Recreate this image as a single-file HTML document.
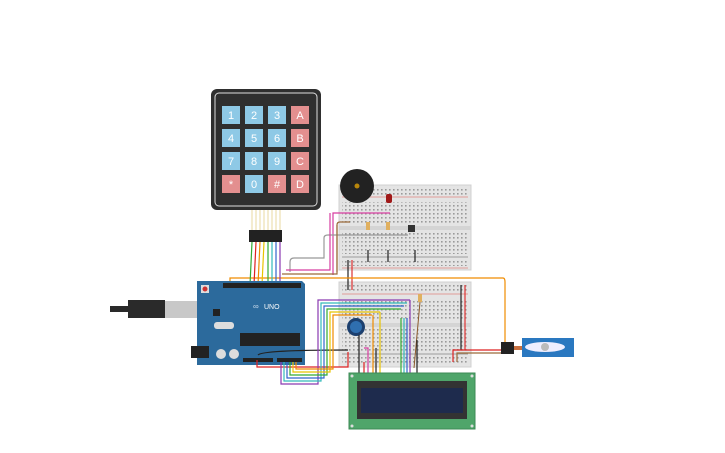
<!DOCTYPE html>
<html><head><meta charset="utf-8"><style>html,body{margin:0;padding:0;background:#fff}svg{display:block}</style></head><body>
<svg width="725" height="453" viewBox="0 0 725 453" xmlns="http://www.w3.org/2000/svg" font-family="Liberation Sans, sans-serif">
<defs>
<pattern id="h" width="4" height="4" patternUnits="userSpaceOnUse"><rect x="1" y="1" width="1.6" height="1.6" fill="#9a9a9a"/></pattern>
</defs>
<!-- Breadboard 1 -->
<rect x="339" y="185" width="132" height="85" fill="#e4e4e4" stroke="#d0d0d0"/>
<rect x="342" y="188" width="126" height="7" fill="url(#h)"/>
<rect x="342" y="202" width="126" height="22" fill="url(#h)"/>
<rect x="339" y="226" width="132" height="4" fill="#d4d4d4"/>
<rect x="342" y="232" width="126" height="22" fill="url(#h)"/>
<rect x="342" y="259" width="126" height="7" fill="url(#h)"/>
<line x1="342" y1="197" x2="468" y2="197" stroke="#d9534f" stroke-width="0.6"/>
<line x1="342" y1="257" x2="468" y2="257" stroke="#555" stroke-width="0.6"/>
<line x1="342" y1="268" x2="468" y2="268" stroke="#d9534f" stroke-width="0.6"/>
<!-- Breadboard 2 -->
<rect x="339" y="282" width="132" height="85" fill="#e4e4e4" stroke="#d0d0d0"/>
<rect x="342" y="285" width="126" height="7" fill="url(#h)"/>
<rect x="342" y="299" width="126" height="22" fill="url(#h)"/>
<rect x="339" y="323" width="132" height="4" fill="#d4d4d4"/>
<rect x="342" y="329" width="126" height="22" fill="url(#h)"/>
<rect x="342" y="356" width="126" height="7" fill="url(#h)"/>
<line x1="342" y1="294" x2="468" y2="294" stroke="#d9534f" stroke-width="0.6"/>
<line x1="342" y1="354" x2="468" y2="354" stroke="#555" stroke-width="0.6"/>
<!-- Buzzer -->
<circle cx="357" cy="186" r="17" fill="#222"/>
<circle cx="357" cy="186" r="2.5" fill="#b8860b"/>
<!-- LED -->
<rect x="386" y="194" width="6" height="9" rx="2" fill="#a01818"/>
<!-- resistors -->
<rect x="366" y="222" width="4" height="8" fill="#e0b060"/>
<rect x="386" y="222" width="4" height="8" fill="#e0b060"/>
<rect x="418" y="294" width="4" height="8" fill="#e0b060"/>
<line x1="420" y1="302" x2="414" y2="368" stroke="#8b5a2b" stroke-width="1"/>
<!-- button -->
<rect x="408" y="225" width="7" height="7" fill="#333"/>
<!-- bb1 small wires -->
<g stroke-width="1.2" fill="none">
<line x1="368" y1="250" x2="368" y2="262" stroke="#222"/>
<line x1="388" y1="250" x2="388" y2="262" stroke="#222"/>
<line x1="415" y1="250" x2="415" y2="262" stroke="#222"/>
<line x1="348" y1="260" x2="348" y2="290" stroke="#222"/>
<line x1="352" y1="260" x2="352" y2="290" stroke="#d33"/>
<line x1="461" y1="285" x2="461" y2="350" stroke="#222"/>
<line x1="465" y1="285" x2="465" y2="350" stroke="#d33"/>
<path d="M333 275 V213 H390" stroke="#d63ea0"/>
<path d="M337 272 V225 Q337 222 340 222 H350" stroke="#9b6a3a"/>
<path d="M290 272 V262 Q290 258 294 258 H324 V238 Q324 235 328 235 H408" stroke="#999"/>
<path d="M286 270 H330 V213" stroke="#d63ea0"/>
<path d="M282 274 H337 V225" stroke="#9b6a3a"/>
<path d="M230 284 V278 H503 Q505 278 505 282 V345" stroke="#f08c00"/>
</g>
<!-- keypad -->
<rect x="211" y="89" width="110" height="121" rx="6" fill="#2f2f2f"/>
<rect x="215" y="93" width="102" height="113" rx="4" fill="none" stroke="#ddd" stroke-width="1"/>
<g font-size="11" fill="#fff" text-anchor="middle">
<g fill="#8ec9e6"><rect x="222" y="106" width="18" height="18"/><rect x="245" y="106" width="18" height="18"/><rect x="268" y="106" width="18" height="18"/>
<rect x="222" y="129" width="18" height="18"/><rect x="245" y="129" width="18" height="18"/><rect x="268" y="129" width="18" height="18"/>
<rect x="222" y="152" width="18" height="18"/><rect x="245" y="152" width="18" height="18"/><rect x="268" y="152" width="18" height="18"/>
<rect x="245" y="175" width="18" height="18"/></g>
<g fill="#e38f8f"><rect x="291" y="106" width="18" height="18"/><rect x="291" y="129" width="18" height="18"/><rect x="291" y="152" width="18" height="18"/><rect x="291" y="175" width="18" height="18"/><rect x="222" y="175" width="18" height="18"/><rect x="268" y="175" width="18" height="18"/></g>
<text x="231" y="119">1</text><text x="254" y="119">2</text><text x="277" y="119">3</text><text x="300" y="119">A</text>
<text x="231" y="142">4</text><text x="254" y="142">5</text><text x="277" y="142">6</text><text x="300" y="142">B</text>
<text x="231" y="165">7</text><text x="254" y="165">8</text><text x="277" y="165">9</text><text x="300" y="165">C</text>
<text x="231" y="188">*</text><text x="254" y="188">0</text><text x="277" y="188">#</text><text x="300" y="188">D</text>
</g>
<g stroke="#e8d8a0" stroke-width="1"><line x1="252" y1="210" x2="252" y2="231"/><line x1="256" y1="210" x2="256" y2="231"/><line x1="260" y1="210" x2="260" y2="231"/><line x1="264" y1="210" x2="264" y2="231"/><line x1="268" y1="210" x2="268" y2="231"/><line x1="272" y1="210" x2="272" y2="231"/><line x1="276" y1="210" x2="276" y2="231"/><line x1="280" y1="210" x2="280" y2="231"/></g>
<rect x="249" y="230" width="33" height="12" fill="#222"/>
<g stroke-width="1.2"><line x1="252" y1="242" x2="250" y2="285" stroke="#3a3"/><line x1="256" y1="242" x2="254" y2="285" stroke="#d22"/><line x1="260" y1="242" x2="258" y2="285" stroke="#f08c00"/><line x1="264" y1="242" x2="262" y2="285" stroke="#e8c400"/><line x1="268" y1="242" x2="268" y2="285" stroke="#3a3"/><line x1="272" y1="242" x2="272" y2="285" stroke="#3bb"/><line x1="276" y1="242" x2="276" y2="285" stroke="#36c"/><line x1="280" y1="242" x2="280" y2="285" stroke="#8a3ab0"/></g>
<!-- USB -->
<rect x="165" y="301" width="48" height="17" fill="#c8c8c8"/>
<path d="M110 306 H128 V300 H165 V318 H128 V312 H110 Z" fill="#2a2a2a"/>
<!-- Arduino -->
<path d="M197 281 H302 L305 284 V365 H197 Z" fill="#2c6a9c"/>
<rect x="223" y="283" width="78" height="5" fill="#222"/>
<rect x="201" y="285" width="8" height="8" fill="#ddd"/><circle cx="205" cy="289" r="2.5" fill="#c33"/>
<text x="253" y="309" font-size="8" fill="#cde">∞</text><text x="264" y="309" font-size="7" fill="#fff">UNO</text>
<rect x="213" y="309" width="7" height="7" fill="#222"/>
<rect x="214" y="322" width="20" height="7" rx="3" fill="#ddd"/>
<rect x="240" y="333" width="60" height="13" fill="#222"/>
<rect x="191" y="346" width="18" height="12" fill="#222"/>
<circle cx="221" cy="354" r="5" fill="#ddd"/><circle cx="234" cy="354" r="5" fill="#ddd"/>
<rect x="243" y="358" width="30" height="4" fill="#222"/><rect x="277" y="358" width="25" height="4" fill="#222"/>
<!-- analog side wires -->
<g fill="none" stroke-width="1.2">
<path d="M257 360 V367 H348 V352" stroke="#d22"/>
<path d="M258 355 Q262 350 348 350" stroke="#222"/>
<path d="M281 362 V384 H318 V300 H410" stroke="#8a3ab0"/>
<path d="M284 362 V381 H321 V303 H407" stroke="#3bb"/>
<path d="M287 362 V378 H324 V306 H404" stroke="#36c"/>
<path d="M290 362 V375 H327 V309 H401" stroke="#3a3"/>
<path d="M293 362 V372 H330 V312 H380" stroke="#e8c400"/>
<path d="M296 362 V369 H333 V315 H372" stroke="#f08c00"/>
</g>
<!-- pot -->
<circle cx="356" cy="327" r="9" fill="#1c3f6e"/><circle cx="356" cy="327" r="6" fill="#2f6fb0"/>
<!-- lcd vertical wires -->
<g stroke-width="1.2">
<line x1="359" y1="335" x2="359" y2="374" stroke="#222"/>
<path d="M364 348 H368 V374" stroke="#d63ea0" fill="none"/>
<line x1="373" y1="315" x2="373" y2="374" stroke="#f08c00"/>
<line x1="376" y1="348" x2="376" y2="374" stroke="#222"/>
<line x1="380" y1="312" x2="380" y2="374" stroke="#e8c400"/>
<line x1="401" y1="318" x2="401" y2="374" stroke="#3a3"/>
<line x1="404" y1="318" x2="404" y2="374" stroke="#3bb"/>
<line x1="407" y1="318" x2="407" y2="374" stroke="#36c"/>
<line x1="410" y1="300" x2="410" y2="374" stroke="#8a3ab0"/>
<line x1="417" y1="340" x2="417" y2="374" stroke="#222"/>
<line x1="364" y1="362" x2="364" y2="374" stroke="#d22"/>
<path d="M453 362 V350 H503" stroke="#d22" fill="none"/>
<path d="M457 362 V353 H503" stroke="#9b6a3a" fill="none"/>
</g>
<!-- LCD -->
<rect x="349" y="373" width="126" height="56" fill="#4fa56a" stroke="#3c8a55"/>
<rect x="357" y="381" width="110" height="38" fill="#333"/>
<rect x="361" y="388" width="102" height="25" fill="#1e2b4d"/>
<g fill="#ddd"><circle cx="352" cy="376" r="1.5"/><circle cx="472" cy="376" r="1.5"/><circle cx="352" cy="426" r="1.5"/><circle cx="472" cy="426" r="1.5"/></g>
<!-- servo -->
<rect x="501" y="342" width="13" height="12" fill="#222"/>
<rect x="514" y="346" width="10" height="4" fill="#c87040"/>
<rect x="522" y="338" width="52" height="19" fill="#2a78c0"/>
<ellipse cx="545" cy="347" rx="20" ry="5" fill="#eef"/>
<circle cx="545" cy="347" r="4" fill="#bbb"/>
</svg>
</body></html>
